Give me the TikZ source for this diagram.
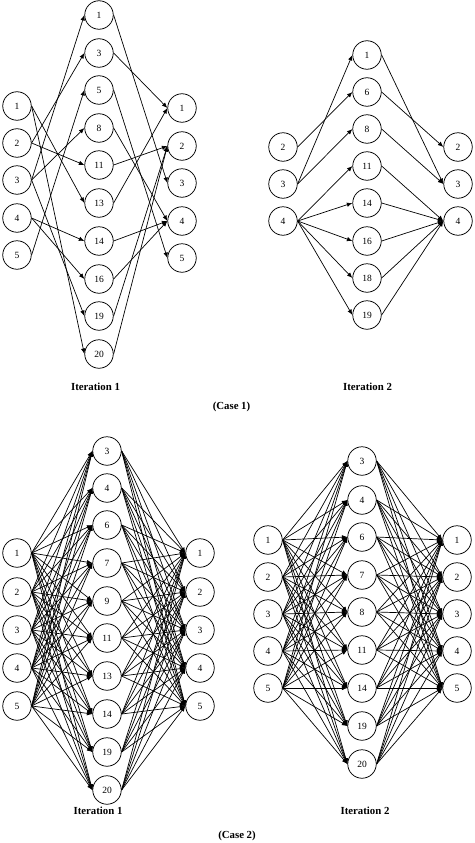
\documentclass[tikz,border=0pt]{standalone}
\usepackage{fontspec}
\setmainfont{Liberation Serif}
\usetikzlibrary{arrows.meta}
\begin{document}
\begin{tikzpicture}[x=1pt,y=-1pt,
  nd/.style={circle,draw,line width=0.75pt,minimum size=28.5pt,inner sep=0pt,font=\fontsize{9.5}{10}\selectfont},
  ed/.style={line width=0.7pt,-{Latex[length=5.5pt,width=4.5pt]}},
  ttl/.style={font=\bfseries\fontsize{10.8}{12}\selectfont,inner sep=0pt}]
\useasboundingbox (0,0) rectangle (474,843);
% ---------- Case 1, Iteration 1 ----------
\foreach \n/\y in {1/106,2/143,3/180,4/218,5/255} \node[nd] (aL\n) at (17,\y) {\n};
\foreach \n/\y in {1/15,3/53,5/90,8/128,11/165,13/203,14/241,16/279,19/316,20/354} \node[nd] (aM\n) at (99,\y) {\n};
\foreach \n/\y in {1/108,2/146,3/183,4/221,5/258} \node[nd] (aR\n) at (182,\y) {\n};
\foreach \a/\b in {1/13,1/20,2/3,2/11,3/1,3/8,3/19,4/14,4/16,5/5} \draw[ed] (aL\a.east) -- (aM\b.west);
\foreach \a/\b in {1/3,3/1,5/5,8/4,11/2,13/1,14/4,16/4,19/2,20/2} \draw[ed] (aM\a.east) -- (aR\b.west);
% ---------- Case 1, Iteration 2 ----------
\foreach \n/\y in {2/147,3/184,4/221} \node[nd] (bL\n) at (283,\y) {\n};
\foreach \n/\y in {1/55,6/92,8/129,11/166,14/203,16/241,18/278,19/315} \node[nd] (bM\n) at (367,\y) {\n};
\foreach \n/\y in {2/147,3/184,4/221} \node[nd] (bR\n) at (458,\y) {\n};
\foreach \a/\b in {2/6,3/1,3/8,4/11,4/14,4/16,4/18,4/19} \draw[ed] (bL\a.east) -- (bM\b.west);
\foreach \a/\b in {1/3,6/2,8/3,11/4,14/4,16/4,18/4,19/4} \draw[ed] (bM\a.east) -- (bR\b.west);
% ---------- Case 2, Iteration 1 ----------
\foreach \n/\y in {1/553,2/592,3/630,4/668,5/706} \node[nd] (cL\n) at (17,\y) {\n};
\foreach \n/\y in {3/451,4/488,6/525,7/563,9/601,11/638,13/676,14/714,19/752,20/790} \node[nd] (cM\n) at (107,\y) {\n};
\foreach \n/\y in {1/553,2/592,3/630,4/668,5/706} \node[nd] (cR\n) at (200,\y) {\n};
\foreach \a in {1,...,5} \foreach \b in {3,4,6,7,9,11,13,14,19,20} \draw[ed] (cL\a.east) -- (cM\b.west);
\foreach \a in {3,4,6,7,9,11,13,14,19,20} \foreach \b in {1,...,5} \draw[ed] (cM\a.east) -- (cR\b.west);
% ---------- Case 2, Iteration 2 ----------
\foreach \n/\y in {1/540,2/577,3/614,4/651,5/688} \node[nd] (dL\n) at (268,\y) {\n};
\foreach \n/\y in {3/461,4/500,6/537,7/575,8/612,11/650,14/688,19/726,20/764} \node[nd] (dM\n) at (362,\y) {\n};
\foreach \n/\y in {1/540,2/577,3/614,4/651,5/688} \node[nd] (dR\n) at (457,\y) {\n};
\foreach \a in {1,...,5} \foreach \b in {3,4,6,7,8,11,14,19,20} \draw[ed] (dL\a.east) -- (dM\b.west);
\foreach \a in {3,4,6,7,8,11,14,19,20} \foreach \b in {1,...,5} \draw[ed] (dM\a.east) -- (dR\b.west);
% ---------- Titles ----------
\node[ttl] (t1) at (95.5,387) {Iteration 1};
\node[ttl] (t2) at (367.5,387) {Iteration 2};
\node[ttl] (t3) at (231.5,407) {(Case 1)};
\node[ttl] (t4) at (98,811) {Iteration 1};
\node[ttl] (t5) at (365,811) {Iteration 2};
\node[ttl] (t6) at (237,836) {(Case 2)};
\end{tikzpicture}
\end{document}
